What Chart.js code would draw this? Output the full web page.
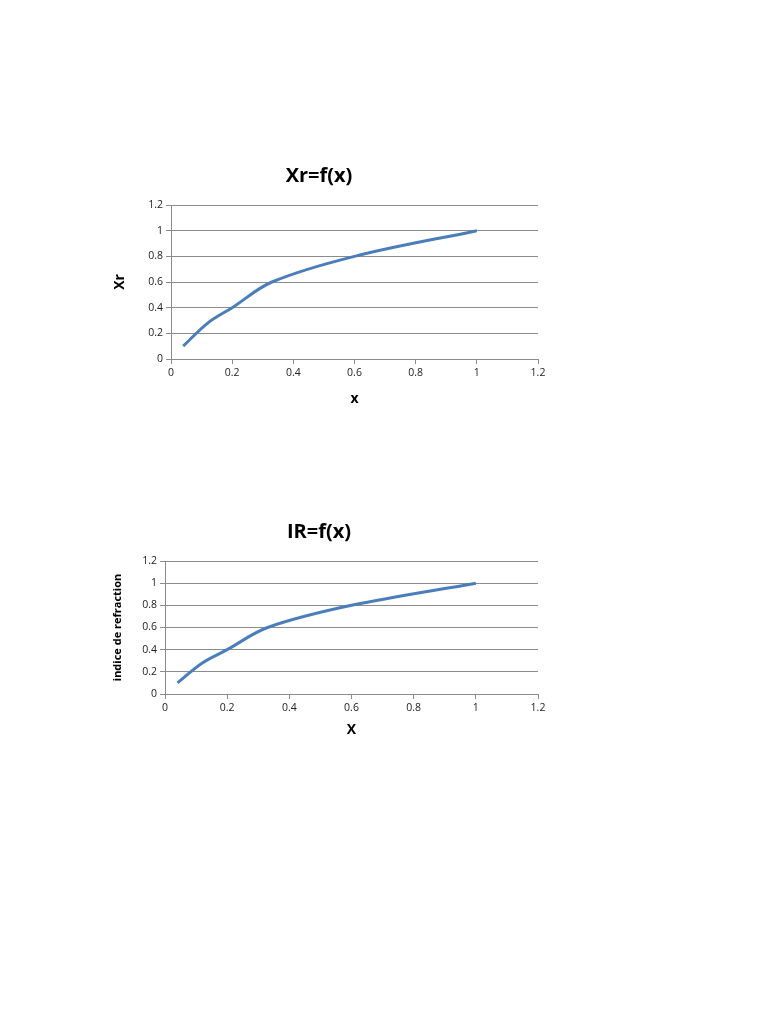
<!DOCTYPE html>
<html>
<head>
<meta charset="utf-8">
<script src="https://cdn.jsdelivr.net/npm/chart.js@4/dist/chart.umd.min.js"></script>
<style>
  body { margin: 0; background: #fff; width: 768px; height: 1024px; position: relative; }
  .box { position: absolute; left: 100px; width: 460px; }
  #box1 { top: 150px; height: 270px; }
  #box2 { top: 500px; height: 250px; }
</style>
</head>
<body>
<div class="box" id="box1"><canvas id="chart1"></canvas></div>
<div class="box" id="box2"><canvas id="chart2"></canvas></div>
<script>
// valeurs
const xValues = [0.04, 0.12, 0.2, 0.33, 0.6, 1];
const xrValues = [0.1, 0.28, 0.4, 0.6, 0.8, 1];
const irValues = [0.1, 0.28, 0.4, 0.6, 0.8, 1];
const tickMin = 0;
const tickMax = 1.2;
const tickStep = 0.2;

const FONT = "'Open Sans', 'Liberation Sans', sans-serif";
const GRID = '#8c8c8c';
const LINE = '#4a7ebb';

function buildPoints(xs, ys) {
    return xs.map((x, i) => ({ x: x, y: ys[i] }));
}

function makeChart(canvasId, opts) {
    const ctx = document.getElementById(canvasId).getContext('2d');
    return new Chart(ctx, {
        type: 'scatter',
        data: {
            datasets: [{
                data: buildPoints(xValues, opts.values),
                showLine: true,
                borderColor: LINE,
                backgroundColor: LINE,
                borderWidth: 3,
                pointRadius: 0,
                tension: 0.35
            }]
        },
        options: {
            responsive: true,
            maintainAspectRatio: false,
            animation: false,
            layout: { padding: { top: opts.padTop, right: 22, bottom: 0, left: 0 } },
            plugins: {
                legend: { display: false },
                tooltip: { enabled: false },
                title: {
                    display: true,
                    text: opts.title,
                    color: '#000',
                    font: { family: FONT, size: 20, weight: 'bold', lineHeight: 1.2 },
                    padding: { top: 0, bottom: 17 }
                }
            },
            scales: {
                x: {
                    type: 'linear',
                    min: tickMin,
                    max: tickMax,
                    afterFit: s => { s.height = opts.xHeight; },
                    grid: { drawOnChartArea: false, drawTicks: true, tickLength: 5, color: GRID },
                    border: { display: true, color: GRID, width: 1 },
                    ticks: {
                        stepSize: tickStep,
                        padding: 3,
                        color: '#222',
                        font: { family: FONT, size: 10.5 },
                        callback: v => String(Math.round(v * 10) / 10)
                    },
                    title: {
                        display: true,
                        text: opts.xTitle,
                        color: '#000',
                        font: { family: FONT, size: 14, weight: 'bold', lineHeight: 1.2 },
                        padding: { top: 0, bottom: opts.xTitlePad }
                    }
                },
                y: {
                    type: 'linear',
                    min: tickMin,
                    max: tickMax,
                    afterFit: s => { s.width = opts.yWidth; },
                    grid: { drawOnChartArea: true, drawTicks: true, tickLength: 5, color: GRID },
                    border: { display: true, color: GRID, width: 1 },
                    ticks: {
                        stepSize: tickStep,
                        padding: 3,
                        color: '#222',
                        font: { family: FONT, size: 10.5 },
                        callback: v => String(Math.round(v * 10) / 10)
                    },
                    title: {
                        display: true,
                        text: opts.yTitle,
                        color: '#000',
                        font: { family: FONT, size: opts.yTitleSize, weight: 'bold', lineHeight: 1.2 },
                        padding: { top: opts.yTitlePad, bottom: 0 }
                    }
                }
            }
        }
    });
}

makeChart('chart1', {
    title: 'Xr=f(x)',
    values: xrValues,
    xTitle: 'x',
    yTitle: 'Xr',
    yTitleSize: 14,
    padTop: 14,
    xHeight: 61,
    yWidth: 71,
    xTitlePad: 13,
    yTitlePad: 12
});

makeChart('chart2', {
    title: 'IR=f(x)',
    values: irValues,
    xTitle: 'X',
    yTitle: 'indice de refraction',
    yTitleSize: 11,
    padTop: 20,
    xHeight: 56,
    yWidth: 65,
    xTitlePad: 12,
    yTitlePad: 11
});
</script>
</body>
</html>
